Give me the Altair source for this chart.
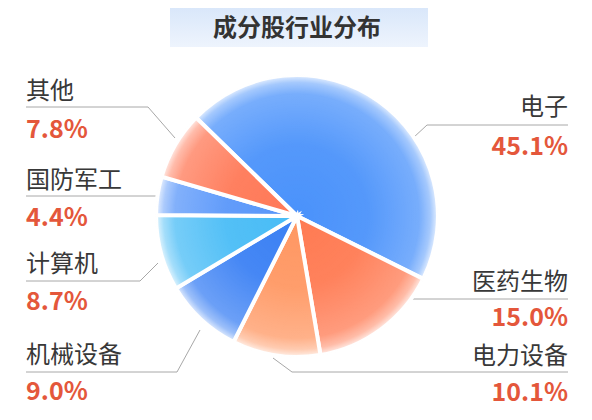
import altair as alt
import pandas as pd

# ---- data ----
categories = ["电子", "医药生物", "电力设备", "机械设备", "计算机", "国防军工", "其他"]
values = [45.1, 15.0, 10.1, 9.0, 8.7, 4.4, 7.8]
title_text = "成分股行业分布"

# ---- styles ----
slice_colors = ["#4a92fb", "#ff7a52", "#ff9762", "#3a80f4", "#48bcf6", "#5896fa", "#ff7856"]
FONT = "Noto Sans CJK SC"
PCT_COLOR = "#e4573b"
NAME_COLOR = "#383838"
LINE_COLOR = "#a8a8a8"

# ---- layout (chart pixel coordinates) ----
OFF = 8
CX, CY, R = 297 - OFF, 216 - OFF, 141
START = 5.485  # radians, clockwise from 12 o'clock
side = ["right", "right", "right", "left", "left", "left", "left"]
name_y = [108, 283, 357, 356, 265, 181, 92]
pct_y = [147, 318, 393, 392, 302, 218, 130]
line_y = [125, 299, 372, 372, 281, 196, 107]
knee_x = [427, 392, 292, 177, 140, 167, 148]
end_x = [413, 392, 273, 200, 158, 167, 175]
end_y = [138, 299, 358, 330, 263, 196, 138]
LEFT_X, RIGHT_X = 26, 568

pie_df = pd.DataFrame({"cat": categories, "value": values, "idx": range(len(categories))})

lab_rows = []
for i, c in enumerate(categories):
    tx = RIGHT_X if side[i] == "right" else LEFT_X
    lab_rows.append({
        "cat": c, "side": side[i], "pct": f"{values[i]:.1f}%",
        "tx": tx - OFF, "ny": name_y[i] - OFF, "py": pct_y[i] - OFF,
    })
lab_df = pd.DataFrame(lab_rows)

seg_rows = []
for i in range(len(categories)):
    tx = RIGHT_X if side[i] == "right" else LEFT_X
    seg_rows.append({"x": tx - OFF, "y": line_y[i] - OFF, "x2": knee_x[i] - OFF, "y2": line_y[i] - OFF})
    seg_rows.append({"x": knee_x[i] - OFF, "y": line_y[i] - OFF, "x2": end_x[i] - OFF, "y2": end_y[i] - OFF})
seg_df = pd.DataFrame(seg_rows)

one = pd.DataFrame({"k": [0]})

# ---- pie ----
pie = alt.Chart(pie_df).mark_arc(outerRadius=R, stroke="white", strokeWidth=4).encode(
    theta=alt.Theta("value:Q", stack=True, scale=alt.Scale(range=[START, START + 6.283185])),
    order=alt.Order("idx:Q"),
    color=alt.Color("cat:N", scale=alt.Scale(domain=categories, range=slice_colors), legend=None),
    x=alt.value(CX), y=alt.value(CY),
)

glow = alt.Chart(one).mark_arc(
    outerRadius=R + 1, theta=0, theta2=6.2832,
    fill=alt.Gradient(
        gradient="radial", x1=0.5, y1=0.5, r1=0, x2=0.5, y2=0.5, r2=0.5,
        stops=[
            alt.GradientStop(offset=0, color="rgba(255,255,255,0)"),
            alt.GradientStop(offset=0.5, color="rgba(255,255,255,0.06)"),
            alt.GradientStop(offset=0.86, color="rgba(255,255,255,0.25)"),
            alt.GradientStop(offset=0.94, color="rgba(255,255,255,0.5)"),
            alt.GradientStop(offset=1, color="rgba(255,255,255,0.92)"),
        ],
    ),
).encode(x=alt.value(CX), y=alt.value(CY))

# ---- leader lines ----
lines = alt.Chart(seg_df).mark_rule(color=LINE_COLOR, strokeWidth=1).encode(
    x=alt.X("x:Q", scale=None), y=alt.Y("y:Q", scale=None),
    x2="x2:Q", y2="y2:Q",
)

def label_layers(s, align):
    base = alt.Chart(lab_df).transform_filter(alt.datum.side == s)
    names = base.mark_text(align=align, baseline="middle", font=FONT, fontSize=24,
                           color=NAME_COLOR).encode(
        x=alt.X("tx:Q", scale=None), y=alt.Y("ny:Q", scale=None), text="cat:N")
    pcts = base.mark_text(align=align, baseline="middle", font=FONT, fontSize=25,
                          fontWeight="bold", color=PCT_COLOR).encode(
        x=alt.X("tx:Q", scale=None), y=alt.Y("py:Q", scale=None), text="pct:N")
    return names + pcts

# ---- title banner ----
banner = alt.Chart(one).mark_rect(
    fill=alt.Gradient(
        gradient="linear", x1=0, y1=0, x2=0, y2=1,
        stops=[alt.GradientStop(offset=0, color="#d9e7fa"),
               alt.GradientStop(offset=1, color="#eef4fd")],
    )
).encode(x=alt.value(170 - OFF), x2=alt.value(428 - OFF), y=alt.value(8 - OFF), y2=alt.value(47 - OFF))

title = alt.Chart(one).mark_text(
    text=title_text, font=FONT, fontSize=24, fontWeight="bold", color="#333333",
    align="center", baseline="middle",
).encode(x=alt.value(297 - OFF), y=alt.value(29 - OFF))

chart = alt.layer(
    banner, title, lines, pie, glow,
    label_layers("left", "left"), label_layers("right", "right"),
).properties(
    width=576, height=404, padding=0, autosize=alt.AutoSizeParams(type="none"),
).configure_view(stroke=None)

chart.save("out.html", embed_options={"renderer": "svg", "actions": False})
